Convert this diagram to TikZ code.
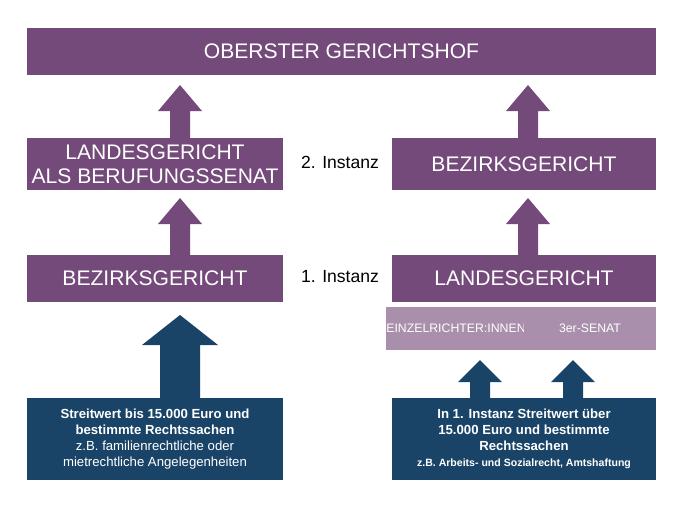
\documentclass[tikz,border=0pt]{standalone}
\usepackage{fontspec}
\setmainfont{Liberation Sans}
\usetikzlibrary{positioning}
\definecolor{lila}{HTML}{744A7A}
\definecolor{hlila}{HTML}{A98FAB}
\definecolor{dblau}{HTML}{1A4467}
\tikzset{
  court/.style={fill=lila,text=white,minimum height=47*0.02cm,align=center,inner sep=0pt,font=\fontsize{12}{13.5}\selectfont},
  senat/.style={fill=hlila,text=white,minimum height=43*0.02cm,inner sep=0pt,font=\fontsize{7}{8}\selectfont},
  basis/.style={fill=dblau,text=white,minimum height=82*0.02cm,align=center,inner sep=0pt,font=\fontsize{7.5}{9}\selectfont},
  lbl/.style={font=\fontsize{10}{12}\selectfont}
}
% block arrow: x, tip y, base y, shaft half, head half, head length, colour
\newcommand{\blockpfeil}[7]{\fill[#7] (#1,#2)--(#1+#5,#2+#6)--(#1+#4,#2+#6)--(#1+#4,#3)--(#1-#4,#3)--(#1-#4,#2+#6)--(#1-#5,#2+#6)--cycle;}
\begin{document}
\begin{tikzpicture}[x=0.02cm,y=-0.02cm]
\useasboundingbox (0,0) rectangle (686,512);
\node[court,minimum width=629*0.02cm] (ogh) at (341.5,51.5) {OBERSTER GERICHTSHOF};
\node[court,minimum width=256*0.02cm,minimum height=52*0.02cm] (lgb) at (155,164) {LANDESGERICHT\\ALS BERUFUNGSSENAT};
\node[court,minimum width=264*0.02cm,minimum height=52*0.02cm] (bgz) at (524,164) {BEZIRKSGERICHT};
\node[court,minimum width=256*0.02cm] (bge) at (155,278.5) {BEZIRKSGERICHT};
\node[court,minimum width=264*0.02cm] (lge) at (524,278.5) {LANDESGERICHT};
\node[senat,minimum width=128*0.02cm] (ezr) at (456,328.5) {EINZELRICHTER:INNEN};
\node[senat,minimum width=132*0.02cm] (sen) at (590,328.5) {3er-SENAT};
\node[lbl] (i2) at (340,162) {2. Instanz};
\node[lbl] (i1) at (340,277) {1. Instanz};
\node[basis,minimum width=256*0.02cm] (sw1) at (155,439) {\textbf{Streitwert bis 15.000 Euro und}\\\textbf{bestimmte Rechtssachen}\\z.B. familienrechtliche oder\\mietrechtliche Angelegenheiten};
\node[basis,minimum width=264*0.02cm] (sw2) at (524,439) {\textbf{In 1. Instanz Streitwert über}\\\textbf{15.000 Euro und bestimmte}\\\textbf{Rechtssachen}\\{\fontsize{6}{7}\selectfont\textbf{z.B. Arbeits- und Sozialrecht, Amtshaftung}}};
\blockpfeil{180}{85}{138}{10}{22}{26}{lila}
\blockpfeil{528}{85}{138}{10}{22}{26}{lila}
\blockpfeil{180}{198}{255}{10}{22}{26}{lila}
\blockpfeil{528}{198}{255}{10}{22}{26}{lila}
\blockpfeil{180}{315}{398}{20}{38}{30}{dblau}
\blockpfeil{480}{360}{398}{10}{22}{22}{dblau}
\blockpfeil{573}{360}{398}{10}{22}{22}{dblau}
\end{tikzpicture}
\end{document}
